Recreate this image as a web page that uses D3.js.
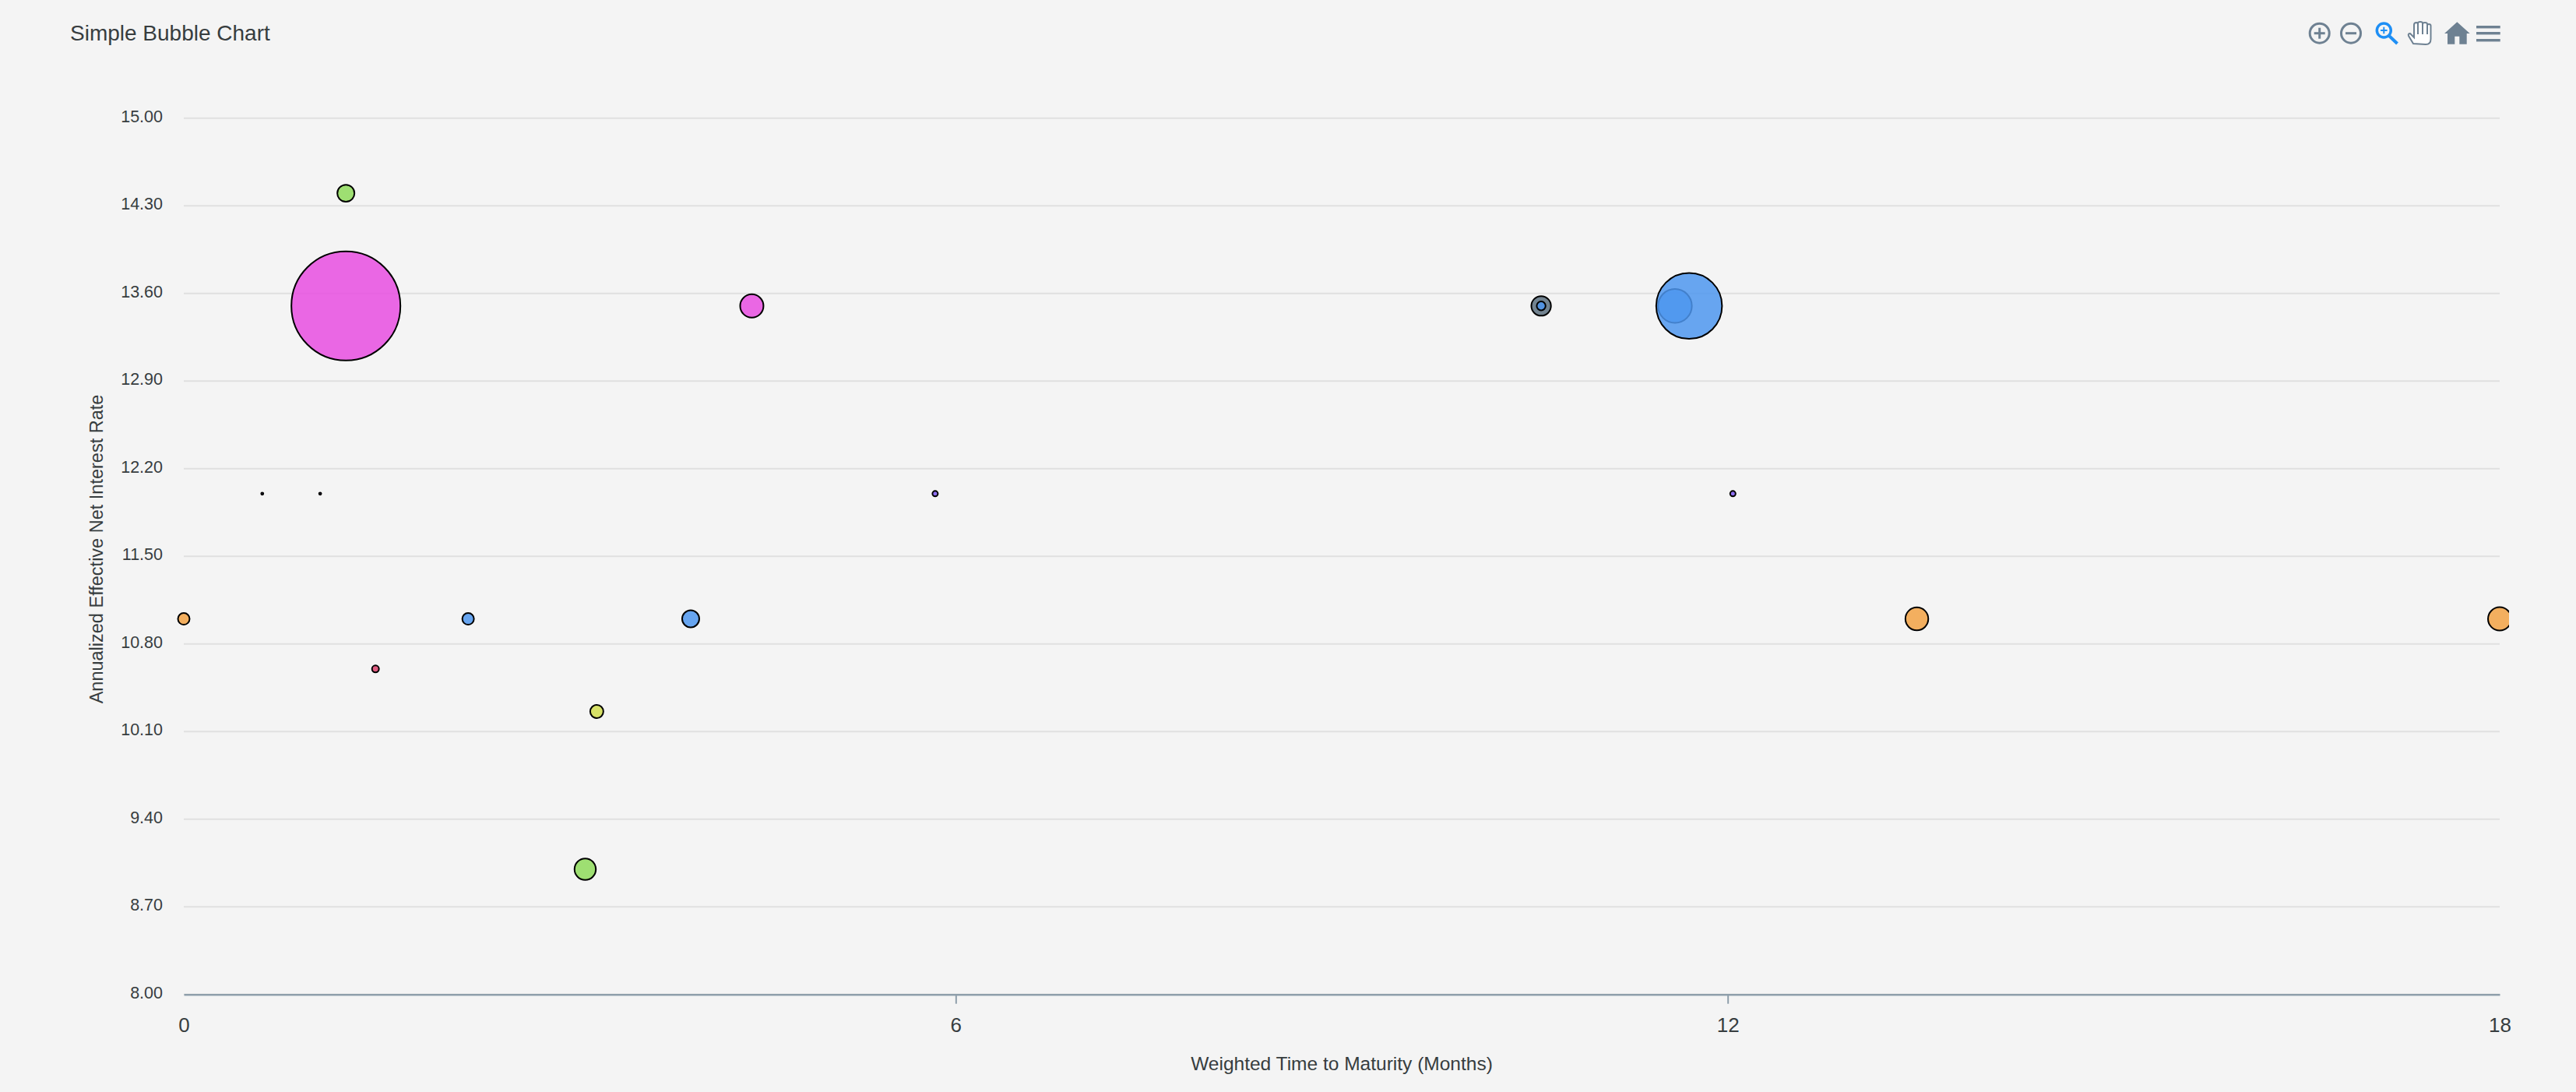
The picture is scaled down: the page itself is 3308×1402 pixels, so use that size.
<!DOCTYPE html>
<html>
<head>
<meta charset="utf-8">
<title>Simple Bubble Chart</title>
<script src="https://cdn.jsdelivr.net/npm/d3@7"></script>
<style>
    html, body {
        margin: 0;
        padding: 0;
        background: #f4f4f4;
        font-family: "Liberation Sans", Arial, Helvetica, sans-serif;
    }
    svg { display: block; }
</style>
</head>
<body>
<div id="chart"></div>
<script>
// values
const months = [0, 13.47, 18, 2.21, 3.94, 11.59, 11.70, 10.55, 10.55, 1.26, 3.12, 1.26, 4.415, 3.21, 1.49, 5.84, 12.04, 0.61, 1.06];
const rates = [11.0, 11.0, 11.0, 11.0, 11.0, 13.5, 13.5, 13.5, 13.5, 14.4, 9.0, 13.5, 13.5, 10.26, 10.6, 12.0, 12.0, 12.0, 12.0];
const sizes = [10.7, 21, 21.4, 10.7, 15.7, 31, 60.4, 18, 8.1, 15.7, 19.6, 100, 21.4, 12.1, 6.4, 5, 5, 2, 2];
const groups = ["orange", "orange", "orange", "blue", "blue", "blue", "blue", "gray", "blue", "green", "green", "pink", "pink", "yellow", "red", "purple", "purple", "dark", "dark"];

const xTicks = [0, 6, 12, 18];
const yTicks = [8.00, 8.70, 9.40, 10.10, 10.80, 11.50, 12.20, 12.90, 13.60, 14.30, 15.00];

const palette = {
    orange: "#f2a244",
    blue: "#4d97ee",
    gray: "#5a6f7e",
    green: "#8edb5b",
    pink: "#e84de0",
    yellow: "#d1dd4d",
    red: "#dc426c",
    purple: "#7a56ef",
    dark: "#7a56ef"
};

const width = 3308;
const height = 1402;
const plot = { left: 236, right: 3210, top: 151.7, bottom: 1276.7 };

const svg = d3.select("#chart")
    .append("svg")
    .attr("width", width)
    .attr("height", height)
    .style("background", "#f4f4f4");

const x = d3.scaleLinear().domain([0, 18]).range([plot.left, plot.right]);
const y = d3.scaleLinear().domain([8, 15]).range([plot.bottom, plot.top]);
const r = d3.scaleLinear().domain([0, 100]).range([0, 70]);

// title
svg.append("text")
    .attr("x", 90)
    .attr("y", 52)
    .attr("font-size", "28px")
    .attr("fill", "#373d3f")
    .text("Simple Bubble Chart");

// horizontal grid lines
svg.append("g")
    .attr("class", "grid")
    .selectAll("line")
    .data(yTicks)
    .enter().append("line")
    .attr("x1", plot.left)
    .attr("x2", plot.right)
    .attr("y1", d => y(d))
    .attr("y2", d => y(d))
    .attr("stroke", "#e0e0e0")
    .attr("stroke-width", 2);

// y axis labels
const yAxis = svg.append("g")
    .attr("transform", `translate(${plot.left},0)`)
    .call(d3.axisLeft(y).tickValues(yTicks).tickSize(0).tickPadding(27).tickFormat(d3.format(".2f")));
yAxis.select(".domain").remove();
yAxis.selectAll("text")
    .attr("font-family", "Liberation Sans, Arial, sans-serif")
    .attr("font-size", "21.5px")
    .attr("fill", "#373d3f")
    .attr("dy", "0.2em");

// x axis
const xAxis = svg.append("g")
    .attr("transform", `translate(0,${plot.bottom})`)
    .call(d3.axisBottom(x).tickValues(xTicks).tickSize(12).tickPadding(18).tickSizeOuter(0));
xAxis.select(".domain")
    .attr("stroke", "#8f9fab")
    .attr("stroke-width", 2.5);
xAxis.selectAll(".tick line")
    .attr("stroke", "#8f9fab")
    .attr("stroke-width", 2);
// only the inner ticks carry a tick mark
xAxis.selectAll(".tick")
    .filter((d, i) => i === 0 || i === xTicks.length - 1)
    .select("line")
    .remove();
xAxis.selectAll("text")
    .attr("font-family", "Liberation Sans, Arial, sans-serif")
    .attr("font-size", "26px")
    .attr("fill", "#373d3f");

// axis titles
svg.append("text")
    .attr("x", (plot.left + plot.right) / 2)
    .attr("y", 1374)
    .attr("text-anchor", "middle")
    .attr("font-size", "24.5px")
    .attr("fill", "#373d3f")
    .text("Weighted Time to Maturity (Months)");

svg.append("text")
    .attr("transform", "translate(132,705) rotate(-90)")
    .attr("text-anchor", "middle")
    .attr("font-size", "23.5px")
    .attr("fill", "#373d3f")
    .text("Annualized Effective Net Interest Rate");

// bubbles
svg.append("clipPath")
    .attr("id", "plotClip")
    .append("rect")
    .attr("x", 0)
    .attr("y", 0)
    .attr("width", plot.right + 12)
    .attr("height", height);

const bubbles = months.map((m, i) => ({ x: m, y: rates[i], z: sizes[i], g: groups[i] }));

svg.append("g")
    .attr("class", "bubbles")
    .attr("clip-path", "url(#plotClip)")
    .selectAll("circle")
    .data(bubbles)
    .enter().append("circle")
    .attr("cx", d => x(d.x))
    .attr("cy", d => y(d.y))
    .attr("r", d => r(d.z))
    .attr("fill", d => palette[d.g])
    .attr("fill-opacity", 0.85)
    .attr("stroke", "#000")
    .attr("stroke-width", 2);

// toolbar icons
const iconColor = "#6e8192";
const tb = svg.append("g").attr("class", "toolbar");

// zoom in / zoom out circles
[[2978.7, true], [3019, false]].forEach(([cx, plus]) => {
    tb.append("circle")
        .attr("cx", cx).attr("cy", 42.7).attr("r", 12.5)
        .attr("fill", "none").attr("stroke", iconColor).attr("stroke-width", 3);
    tb.append("line")
        .attr("x1", cx - 7).attr("x2", cx + 7).attr("y1", 42.7).attr("y2", 42.7)
        .attr("stroke", iconColor).attr("stroke-width", 3);
    if (plus) {
        tb.append("line")
            .attr("x1", cx).attr("x2", cx).attr("y1", 35.7).attr("y2", 49.7)
            .attr("stroke", iconColor).attr("stroke-width", 3);
    }
});

// selection zoom (blue magnifier)
const zBlue = "#1e8ff5";
tb.append("circle")
    .attr("cx", 3061.3).attr("cy", 39).attr("r", 9)
    .attr("fill", "none").attr("stroke", zBlue).attr("stroke-width", 3.5);
tb.append("line")
    .attr("x1", 3068).attr("y1", 46).attr("x2", 3078.5).attr("y2", 56)
    .attr("stroke", zBlue).attr("stroke-width", 4);
tb.append("line")
    .attr("x1", 3057).attr("x2", 3065.6).attr("y1", 39).attr("y2", 39)
    .attr("stroke", zBlue).attr("stroke-width", 2);
tb.append("line")
    .attr("x1", 3061.3).attr("x2", 3061.3).attr("y1", 34.7).attr("y2", 43.3)
    .attr("stroke", zBlue).attr("stroke-width", 2);

// pan (hand)
tb.append("path")
    .attr("d", "M3099,56 L3093,46 Q3092,43 3095,43 L3100,48 L3100,32 Q3100,29 3103,29 Q3105,29 3105,32 L3105,30 Q3105,28 3108,28 Q3111,28 3111,30 L3111,31 Q3111,29 3114,29 Q3117,29 3117,31 L3117,33 Q3117,31 3119,31 Q3121.5,31 3121.5,33 L3121.5,50 Q3121.5,57 3115,57 Z")
    .attr("fill", "#fff").attr("stroke", iconColor).attr("stroke-width", 2);
[3105, 3111, 3117].forEach(hx => {
    tb.append("line")
        .attr("x1", hx).attr("x2", hx).attr("y1", 31).attr("y2", 44)
        .attr("stroke", iconColor).attr("stroke-width", 2);
});

// home
tb.append("path")
    .attr("d", "M3139,43 L3155.3,28.3 L3171.7,43 L3167.7,43 L3167.7,56.7 L3158.3,56.7 L3158.3,46.7 L3152.3,46.7 L3152.3,56.7 L3143,56.7 L3143,43 Z")
    .attr("fill", iconColor);

// menu
[34.7, 42.7, 51.7].forEach(ly => {
    tb.append("rect")
        .attr("x", 3180).attr("y", ly - 1.7).attr("width", 30.7).attr("height", 3.4)
        .attr("fill", iconColor);
});
</script>
</body>
</html>
